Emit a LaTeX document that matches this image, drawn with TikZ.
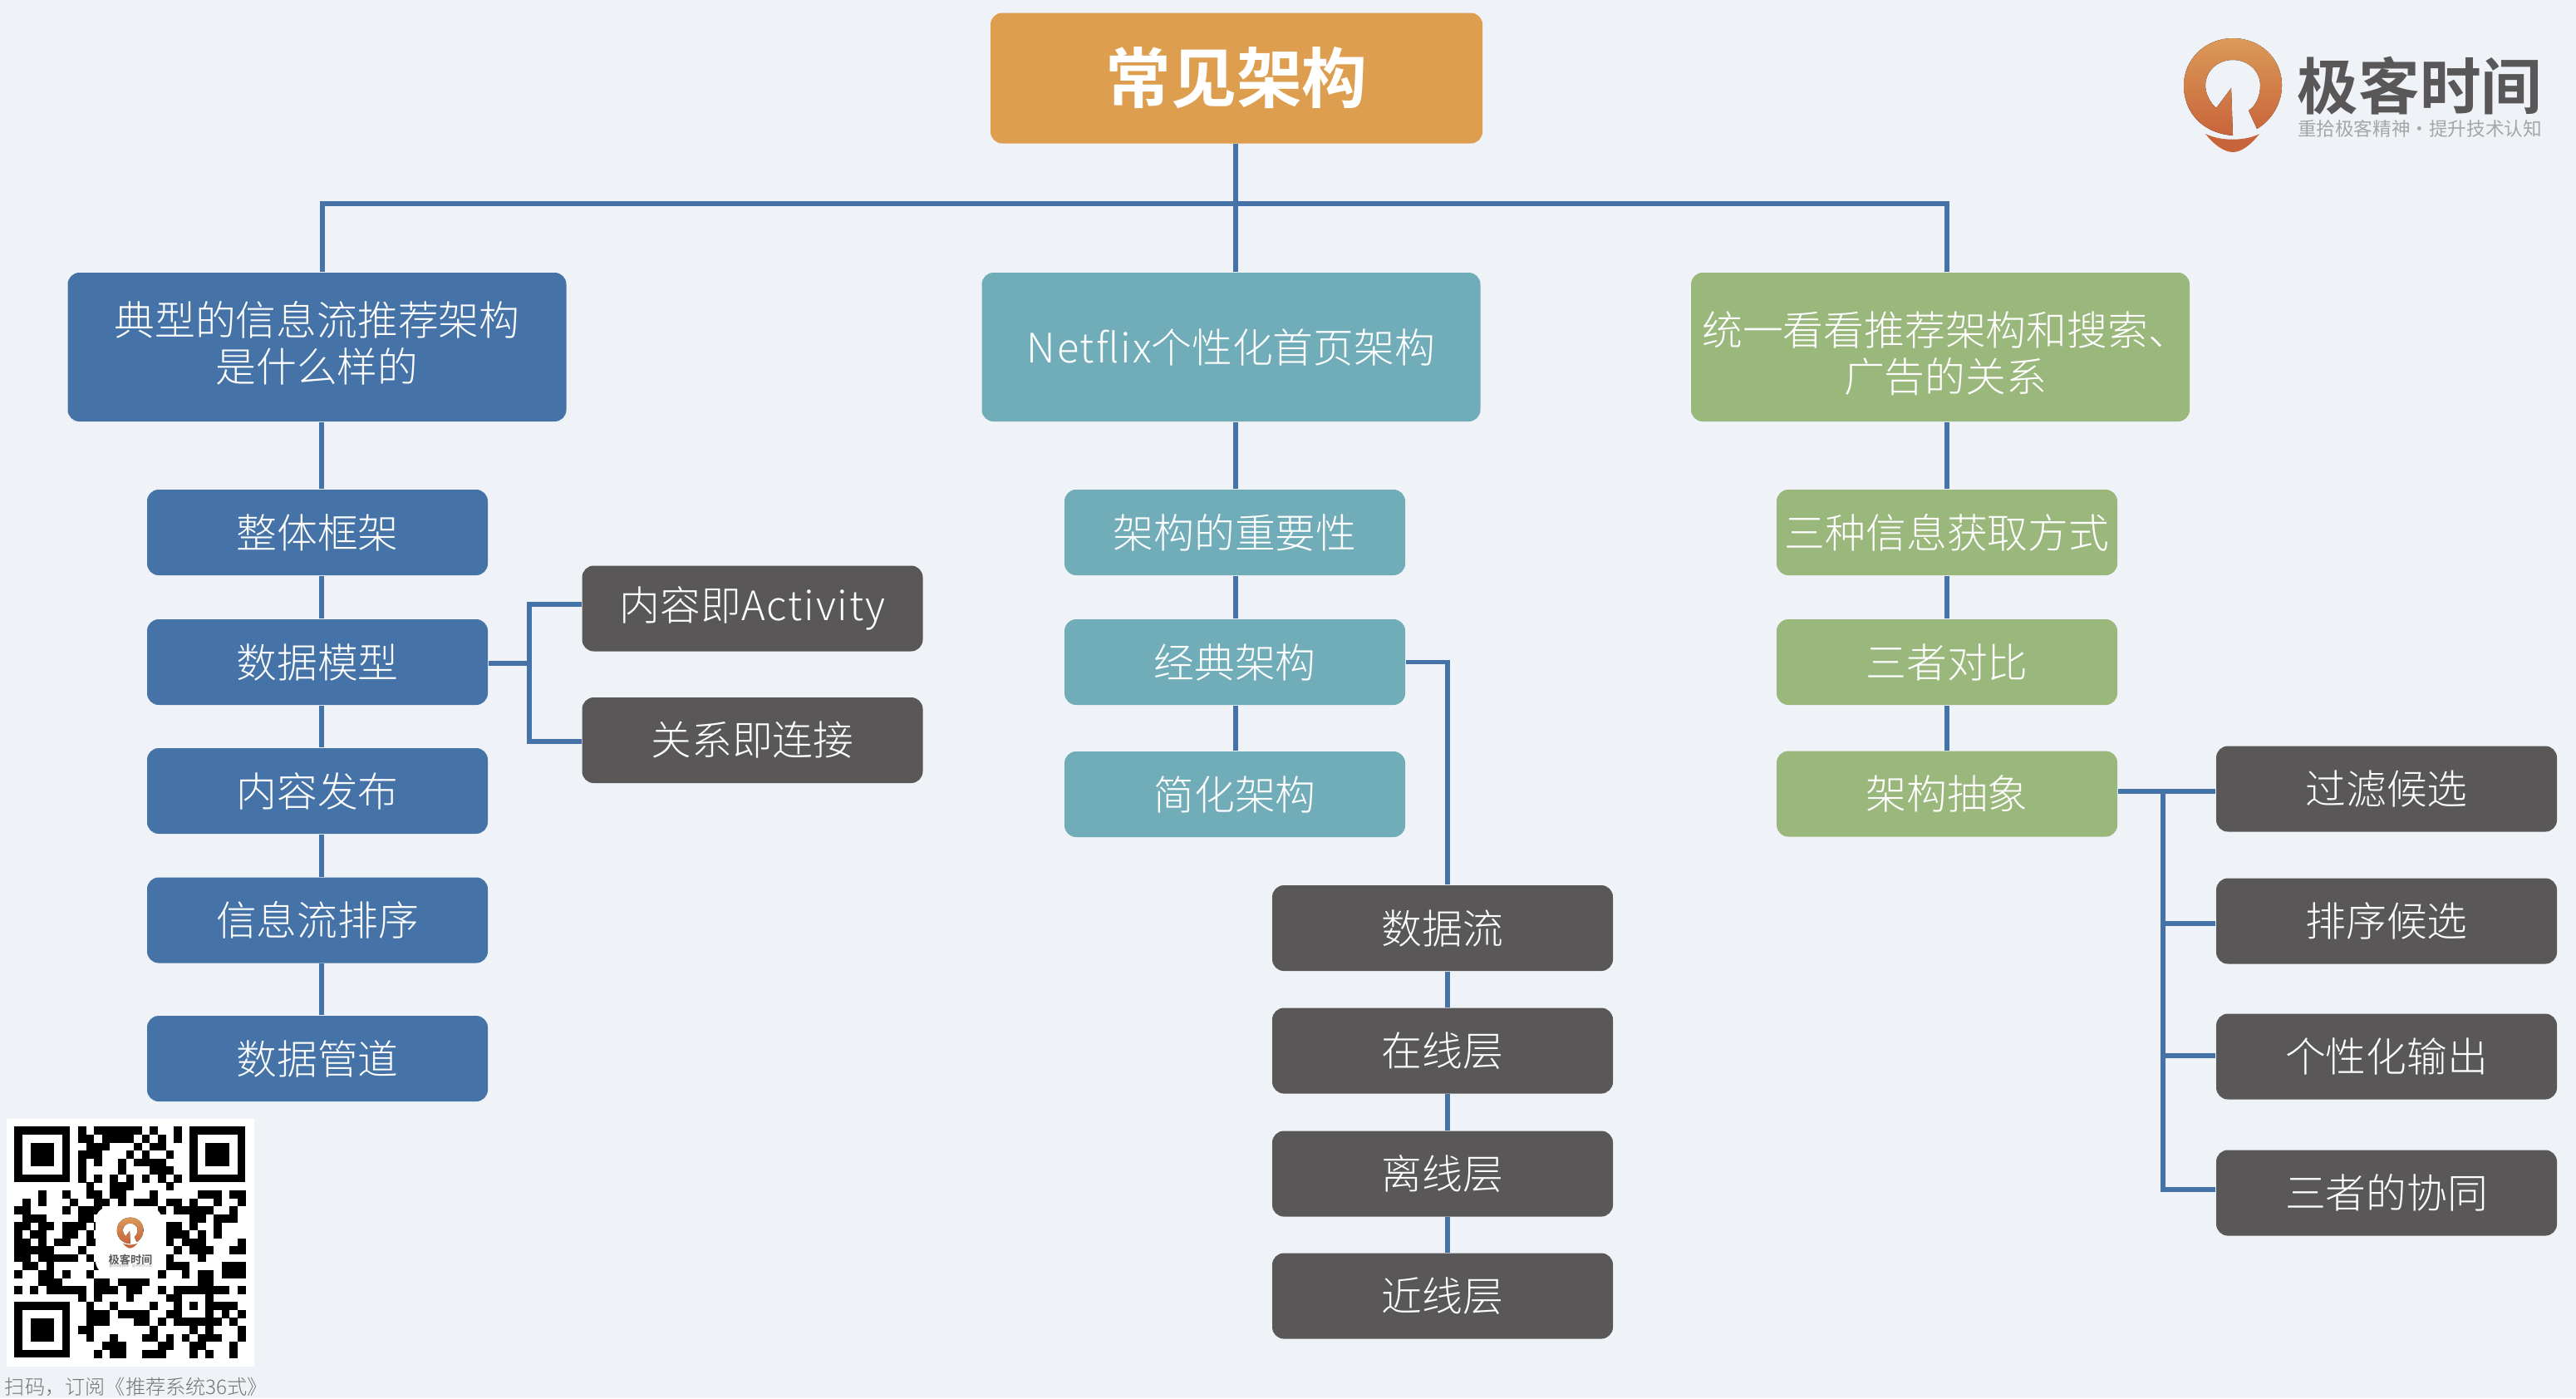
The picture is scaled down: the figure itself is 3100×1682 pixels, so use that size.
\documentclass[tikz,border=0pt]{standalone}
\usepackage{fontspec}
\setmainfont{Noto Sans CJK SC}[UprightFont=* Light,BoldFont=* Bold]
\newfontfamily\logofont{Noto Sans CJK SC}[UprightFont=* Bold]
\newfontfamily\subfont{Noto Sans CJK SC}
\newcommand{\widelatin}[1]{{\addfontfeatures{LetterSpace=4}#1}}
\definecolor{pagebg}{HTML}{EFF3F8}
\definecolor{lineblue}{HTML}{4573A7}
\definecolor{boxorange}{HTML}{DD9E4F}
\definecolor{boxteal}{HTML}{70ADB9}
\definecolor{boxgreen}{HTML}{9AB77C}
\definecolor{boxdark}{HTML}{595757}
\definecolor{logotop}{HTML}{DB9A58}
\definecolor{logobottom}{HTML}{C8643A}
\tikzset{
  boxbase/.style={rounded corners=3.5pt, inner sep=0pt, text=white, align=center,
    font=\fontsize{12.2}{14}\selectfont},
  toplevel/.style={boxbase, minimum width=150pt, minimum height=44.75pt},
  sublevel/.style={boxbase, minimum width=102.5pt, minimum height=25.75pt},
  link/.style={lineblue, line width=1.4pt},
  logomark/.pic={
    \fill[top color=logotop, bottom color=logobottom]
      (0,60) .. controls (-37,57) and (-59,32) .. (-59,0)
      .. controls (-59,-33) and (-32,-57) .. (0,-57)
      .. controls (33,-57) and (59,-33) .. (59,0)
      .. controls (59,22) and (46,42) .. (29,52) -- (19,30)
      .. controls (28,24) and (33,12) .. (33,0)
      .. controls (33,-18) and (18,-31) .. (0,-31)
      .. controls (-18,-31) and (-33,-18) .. (-33,0)
      .. controls (-33,10) and (-27,21) .. (-20,27) -- (-2,3) -- cycle;
    \fill[logobottom]
      (-33,58) .. controls (-15,67) and (15,67) .. (32,58)
      .. controls (21,72) and (10,80) .. (0,80)
      .. controls (-10,80) and (-22,72) .. (-33,58) -- cycle;
  }
}
\begin{document}
\begin{tikzpicture}[x=0.25pt,y=-0.25pt]
\fill[pagebg] (0,0) rectangle (3100,1682);
\useasboundingbox (0,0) rectangle (3100,1682);
%
\node[boxbase, fill=boxorange, minimum width=148pt, minimum height=39.25pt, font=\fontsize{19.7}{22}\selectfont\bfseries] (title) at (1488,94) {常见架构};
%
\node[toplevel, fill=lineblue] (feed) at (381.5,417.5) {典型的信息流推荐架构\\是什么样的\rule[-3.5pt]{0pt}{3.5pt}};
\node[toplevel, fill=boxteal] (netflix) at (1481.5,417.5) {\widelatin{Netflix}个性化首页架构};
\node[toplevel, fill=boxgreen] (unified) at (2335,417.5) {\rule{0pt}{14pt}\hspace*{3pt}统一看看推荐架构和搜索、\\\hspace*{3pt}广告的关系};
%
\node[sublevel, fill=lineblue] (frame) at (382,640.5) {整体框架};
\node[sublevel, fill=lineblue] (model) at (382,796.5) {数据模型};
\node[sublevel, fill=lineblue] (publish) at (382,951.5) {内容发布};
\node[sublevel, fill=lineblue] (rank) at (382,1107) {信息流排序};
\node[sublevel, fill=lineblue] (pipeline) at (382,1273.5) {数据管道};
\node[sublevel, fill=boxdark] (activity) at (905.5,732) {内容即\widelatin{Activity}};
\node[sublevel, fill=boxdark] (relation) at (905.5,890.5) {关系即连接};
%
\node[sublevel, fill=boxteal] (weight) at (1486,640.5) {架构的重要性};
\node[sublevel, fill=boxteal] (classic) at (1486,796.5) {经典架构};
\node[sublevel, fill=boxteal] (simple) at (1486,955.5) {简化架构};
\node[sublevel, fill=boxdark] (flow) at (1736,1116.5) {数据流};
\node[sublevel, fill=boxdark] (online) at (1736,1264) {在线层};
\node[sublevel, fill=boxdark] (offline) at (1736,1412) {离线层};
\node[sublevel, fill=boxdark] (nearline) at (1736,1559) {近线层};
%
\node[sublevel, fill=boxgreen] (access) at (2343,640.5) {三种信息获取方式};
\node[sublevel, fill=boxgreen] (compare) at (2343,796.5) {三者对比};
\node[sublevel, fill=boxgreen] (abstract) at (2343,955) {架构抽象};
\node[sublevel, fill=boxdark] (filter) at (2872,949) {过滤候选};
\node[sublevel, fill=boxdark] (order) at (2872,1108) {排序候选};
\node[sublevel, fill=boxdark] (personal) at (2872,1271) {个性化输出};
\node[sublevel, fill=boxdark] (together) at (2872,1435) {三者的协同};
%
\coordinate (busleft) at (388,245);
\coordinate (busmid) at (1487,245);
\coordinate (busright) at (2343,245);
\coordinate (spineleft) at (387,600);
\coordinate (forkleft) at (637,798);
\coordinate (forkmid) at (1742,796.5);
\coordinate (forkright) at (2603,952);
%
\draw[link] (title.south -| busmid) -- (netflix.north -| busmid);
\draw[link] (feed.north -| busleft) -- (busleft) -- (busright) -- (unified.north -| busright);
%
\draw[link] (feed.south -| spineleft) -- (frame.north -| spineleft);
\draw[link] (frame.south -| spineleft) -- (model.north -| spineleft);
\draw[link] (model.south -| spineleft) -- (publish.north -| spineleft);
\draw[link] (publish.south -| spineleft) -- (rank.north -| spineleft);
\draw[link] (rank.south -| spineleft) -- (pipeline.north -| spineleft);
\draw[link] (model.east |- forkleft) -- (forkleft);
\draw[link] (activity.west |- 0,727) -| (forkleft) |- (relation.west |- 0,892);
%
\draw[link] (netflix.south -| busmid) -- (weight.north -| busmid);
\draw[link] (weight.south -| busmid) -- (classic.north -| busmid);
\draw[link] (classic.south -| busmid) -- (simple.north -| busmid);
\draw[link] (classic.east) -- (forkmid) -- (flow.north -| forkmid);
\draw[link] (flow.south -| forkmid) -- (online.north -| forkmid);
\draw[link] (online.south -| forkmid) -- (offline.north -| forkmid);
\draw[link] (offline.south -| forkmid) -- (nearline.north -| forkmid);
%
\draw[link] (unified.south -| busright) -- (access.north -| busright);
\draw[link] (access.south -| busright) -- (compare.north -| busright);
\draw[link] (compare.south -| busright) -- (abstract.north -| busright);
\draw[link] (abstract.east |- forkright) -- (filter.west |- forkright);
\draw[link] (forkright) |- (together.west |- 0,1431);
\draw[link] (forkright |- 0,1111) -- (order.west |- 0,1111);
\draw[link] (forkright |- 0,1270) -- (personal.west |- 0,1270);
%
\pic at (2687,103) {logomark};
\node[inner sep=0pt, text=boxdark, font=\logofont\fontsize{18.4}{20}\selectfont] (brand) at (2912,103) {极客时间};
\node[inner sep=0pt, text=black!35, font=\subfont\fontsize{5.65}{7}\selectfont] (slogan) at (2912,155) {重拾极客精神·提升技术认知};
%
\fill[white] (8,1346) rectangle (306,1644);
\foreach \fx/\fy in {0/0,22/0,0/22} {
  \fill[black] (17.3+9.59*\fx,1355.3+9.59*\fy) rectangle ++(67.1,67.1);
  \fill[white] (26.9+9.59*\fx,1364.9+9.59*\fy) rectangle ++(47.9,47.9);
  \fill[black] (36.5+9.59*\fx,1374.5+9.59*\fy) rectangle ++(28.8,28.8);
}
\foreach \qrow/\qcols in {
  0/{8,10,11,12,13,14,15,17,20},
  1/{8,9,11,12,13,14,16,18,20},
  2/{9,10,11,15,17,18},
  3/{8,9,10,14,16,19},
  4/{8,10,13,15,16,17,18},
  5/{8,13,17,18,19},
  6/{8,10,12,14,16,18,20},
  7/{9,12,13,14,19},
  8/{3,6,9,10,12,13,17,23,24,25,27,28},
  9/{1,3,7,10,11,13,15,16,17,19,20,22,25,28},
  10/{0,1,6,8,9,10,18,20,21,22,23,24,27},
  11/{1,2,3,8,9,22,23,25,26,27},
  12/{0,1,3,4,6,7,8,10,19,20,22,25},
  13/{0,2,3,6,7,9,19,20,21,23,25},
  14/{0,1,3,5,6,9,10,19,21,22,23,28},
  15/{0,1,2,3,4,8,20,22,23,24,27,28},
  16/{0,1,3,4,5,6,7,9,19,23},
  17/{1,2,4,10,19,20,21,26,27,28},
  18/{0,3,4,6,9,18,21,23,24,26,27,28},
  19/{3,4,5,10,11,13,14,15,16,23,24},
  20/{0,2,4,5,6,7,8,10,11,12,14,15,18,20,21,22,23,24,25,26,28},
  21/{8,10,14,19,20,24},
  22/{9,12,17,20,22,24,25,26,27},
  23/{9,10,11,13,14,15,16,19,20,24,26,28},
  24/{9,10,11,15,16,18,20,21,22,23,24,25,27},
  25/{8,9,17,22,24,28},
  26/{9,12,16,17,19,21,23,24,25,28},
  27/{11,12,13,18,19,22,23,27},
  28/{10,12,13,16,17,18,22,24,27}} {
  \foreach \qcol in \qcols {
    \fill[black] (17.3+9.59*\qcol,1355.3+9.59*\qrow) rectangle ++(9.7,9.7);
  }
}
\fill[white, rounded corners=4pt] (115,1452) rectangle (195,1533);
\pic[scale=0.27] at (156.7,1480) {logomark};
\node[inner sep=0pt, text=boxdark, font=\logofont\fontsize{3.3}{4}\selectfont] (qrbrand) at (157,1515) {极客时间};
\node[inner sep=0pt, text=black!35, font=\subfont\fontsize{1}{1.2}\selectfont] (qrslogan) at (157,1523) {重拾极客精神·提升技术认知};
\node[inner sep=0pt, text=black!55, font=\fontsize{6.05}{7}\selectfont] (caption) at (164,1668) {扫码，订阅《推荐系统36式》};
\end{tikzpicture}
\end{document}
